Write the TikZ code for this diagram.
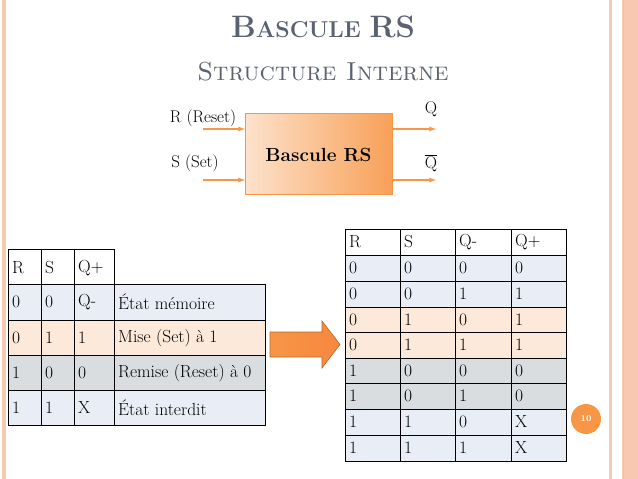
\documentclass[tikz,border=0pt]{standalone}
\definecolor{ttl}{HTML}{5A6272}
\definecolor{org}{HTML}{F79646}
\definecolor{lor}{HTML}{FCD5B5}
\definecolor{brd}{HTML}{F8C8B0}
\definecolor{rb}{HTML}{E9EDF6}
\definecolor{rp}{HTML}{FDE9D9}
\definecolor{rg}{HTML}{D9DDE0}
\begin{document}
\begin{tikzpicture}[x=1pt,y=-1pt,
  tx/.style={font=\fontsize{17.5}{19}\selectfont,anchor=west,inner sep=0pt},
  lb/.style={font=\fontsize{17}{19}\selectfont},
  ar/.style={draw=org,line width=1.3pt,-latex},
  cell/.style={draw=black,line width=0.5pt}]
\useasboundingbox (0,0) rectangle (638,479);
\fill[white] (0,0) rectangle (638,479);
% borders
\fill[brd] (2,0) rectangle (6,479);
\fill[brd] (609,0) rectangle (612,479);
\fill[brd] (622,0) rectangle (638,479);
\draw[org!60,line width=0.6pt] (623,0) -- (623,479);
% titles
\node[text=ttl,font=\bfseries] (t1) at (323,27) {\fontsize{31}{34}\selectfont B\fontsize{23}{26}\selectfont ASCULE \fontsize{31}{34}\selectfont RS};
\node[text=ttl,font=\fontsize{26}{29}\selectfont\scshape] (t2) at (323,72) {Structure Interne};
% block
\shade[left color=lor!70,right color=org!90,draw=org] (245,113) rectangle (392,194);
\node[font=\fontsize{19}{21}\selectfont\bfseries] (b) at (318.5,155) {Bascule RS};
\coordinate (ri) at (203,129); \coordinate (re) at (245,129);
\coordinate (si) at (203,180); \coordinate (se) at (245,180);
\coordinate (qo) at (392,129); \coordinate (qe) at (436,129);
\coordinate (no) at (392,180); \coordinate (ne) at (436,180);
\draw[ar] (ri) -- (re); \draw[ar] (si) -- (se);
\draw[ar] (qo) -- (qe); \draw[ar] (no) -- (ne);
\node[lb] (rl) at (203,118) {R (Reset)};
\node[lb] (sl) at (195,163) {S (Set)};
\node[lb] (ql) at (431,109) {Q};
\node[lb] (nl) at (431,163) {$\overline{\mbox{Q}}$};
% left table
\fill[rb] (8,284) rectangle (265,320);
\fill[rp] (8,320) rectangle (265,355);
\fill[rg] (8,355) rectangle (265,390);
\fill[rb] (8,390) rectangle (265,425);
\draw[cell] (8,249) rectangle (114,284);
\foreach \x in {41,74} \draw[cell] (\x,249) -- (\x,425);
\draw[cell] (114,249) -- (114,425);
\draw[cell] (8,284) rectangle (265,425);
\foreach \y in {320,355,390} \draw[cell] (8,\y) -- (265,\y);
\node[tx] (l0a) at (12,268) {R}; \node[tx] (l0b) at (45,268) {S}; \node[tx] (l0c) at (78,268) {Q+};
\foreach \a/\b/\c/\d/\y [count=\i] in {0/0/Q-/État mémoire/302, 0/1/1/Mise (Set) à 1/338, 1/0/0/Remise (Reset) à 0/373, 1/1/X/État interdit/408}{
  \node[tx] (la\i) at (12,\y) {\a};
  \node[tx] (lb\i) at (45,\y) {\b};
  \node[tx] (lc\i) at (78,\y) {\c};
  \node[tx] (ld\i) at (118,\y) {\d};
}
% arrow
\shade[left color=org,right color=org!90!red,draw=org!70!black,line width=0.6pt]
  (270,332) -- (322,332) -- (322,321) -- (340,344.5) -- (322,368) -- (322,357) -- (270,357) -- cycle;
% right table
\foreach \y/\c in {255/rb,281/rb,307/rp,332/rp,358/rg,383/rg,409/rb,435/rb}
  \fill[\c] (345,\y) rectangle (566,\y+26);
\draw[cell] (345,229) rectangle (566,461);
\foreach \x in {400,455,511} \draw[cell] (\x,229) -- (\x,461);
\foreach \y in {255,281,307,332,358,383,409,435} \draw[cell] (345,\y) -- (566,\y);
\node[tx] (h1) at (349,242) {R}; \node[tx] (h2) at (404,242) {S};
\node[tx] (h3) at (459,242) {Q-}; \node[tx] (h4) at (515,242) {Q+};
\foreach \a/\b/\c/\d/\y [count=\i] in {0/0/0/0/268,0/0/1/1/294,0/1/0/1/320,0/1/1/1/345,1/0/0/0/371,1/0/1/0/396,1/1/0/X/422,1/1/1/X/448}{
  \node[tx] (ra\i) at (349,\y) {\a};
  \node[tx] (rb\i) at (404,\y) {\b};
  \node[tx] (rc\i) at (459,\y) {\c};
  \node[tx] (rd\i) at (515,\y) {\d};
}
% page number
\node[circle,fill=org,minimum size=30pt,inner sep=0pt,text=white,font=\fontsize{9}{10}\selectfont\bfseries] (pn) at (586,419) {10};
\end{tikzpicture}
\end{document}
